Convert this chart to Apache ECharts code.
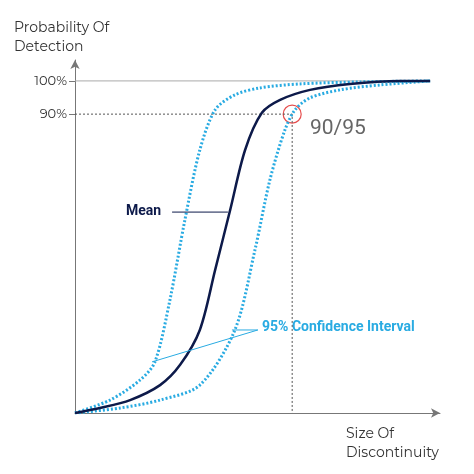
<!DOCTYPE html>
<html><head><meta charset="utf-8">
<script src="https://cdn.jsdelivr.net/npm/echarts@6/dist/echarts.min.js"></script>
<style>html,body{margin:0;background:#fff}#c{width:474px;height:474px}</style>
</head><body><div id="c"></div>
<script>
var meanX = [0, 6.8, 15.1, 23.3, 28.8, 34.2, 38.4, 42.5, 46.6, 51.2, 56.2, 64.4, 75.3, 89, 97.3];
var meanY = [0, 1.5, 3.9, 8.4, 14.5, 25, 43.1, 61.1, 79.2, 90.4, 94.3, 97.3, 99.1, 100, 100];
var lowX = [0, 9.6, 17.8, 21.9, 26, 30.1, 34.2, 38.4, 43.8, 50.7, 61.6, 78.1, 97.3];
var lowY = [0, 3.9, 9.9, 15.4, 34.0, 58.1, 79.2, 91.3, 95.8, 97.9, 99.1, 99.7, 100];
var highX = [0, 12.3, 23.3, 34.2, 43.8, 49.3, 53.4, 57.5, 60.3, 64.4, 72.6, 83.6, 97.3];
var highY = [0, 1.5, 3.9, 8.4, 25, 49.1, 70.2, 85.2, 91.3, 94.9, 97.3, 98.8, 100];
var yTicks = [90, 100];
var pod = [59.5, 90];

function pairs(xs, ys) { return xs.map(function (x, i) { return [x, ys[i]]; }); }
var blue = '#29abe2', navy = '#0d1a4a';

var chart = echarts.init(document.getElementById('c'));
chart.setOption({
  animation: false,
  grid: { left: 75, right: 34, top: 60, bottom: 61 },
  xAxis: { type: 'value', min: 0, max: 100, splitLine: { show: false },
    axisLine: { lineStyle: { color: '#777' }, symbol: ['none', 'arrow'], symbolSize: [7, 9] },
    axisTick: { show: false }, axisLabel: { show: false } },
  yAxis: { type: 'value', min: 0, max: 106.3, splitLine: { show: false },
    axisLine: { show: true, lineStyle: { color: '#777' }, symbol: ['none', 'arrow'], symbolSize: [7, 9] },
    axisTick: { show: true, customValues: yTicks, length: 6, lineStyle: { color: '#777' } },
    axisLabel: { customValues: yTicks, formatter: '{value}%', color: '#333', fontSize: 13, fontFamily: 'Montserrat, Roboto, sans-serif' } },
  series: [
    { type: 'line', data: [[0, 100], [97.3, 100]], symbol: 'none', silent: true,
      lineStyle: { color: '#aaa', width: 1 } },
    { type: 'line', data: [[0, pod[1]], pod, [pod[0], 0]], symbol: 'none', silent: true,
      lineStyle: { color: '#555', width: 1, type: [2, 2] } },
    { type: 'line', data: pairs(lowX, lowY), smooth: 0.3, symbol: 'none',
      lineStyle: { color: blue, width: 3, type: [2, 2] } },
    { type: 'line', data: pairs(highX, highY), smooth: 0.3, symbol: 'none',
      lineStyle: { color: blue, width: 3, type: [2, 2] } },
    { type: 'line', data: pairs(meanX, meanY), smooth: 0.3, symbol: 'none',
      lineStyle: { color: navy, width: 2.5 } },
    { type: 'line', data: [[26.6, 60.5], [41.9, 60.5]], symbol: 'none', lineStyle: { color: navy, width: 1 } },
    { type: 'line', data: [[50.1, 25], [21.1, 15.4]], symbol: 'none', lineStyle: { color: blue, width: 1 } },
    { type: 'line', data: [[50.1, 25], [43.0, 25]], symbol: 'none', lineStyle: { color: blue, width: 1 } },
    { type: 'scatter', data: [pod], symbol: 'circle', symbolSize: 18,
      itemStyle: { color: 'transparent', borderColor: '#e02020', borderWidth: 1.2 } }
  ],
  graphic: [
    { type: 'text', left: 14, top: 18, style: { text: 'Probability Of\nDetection', fill: '#333', font: '14px Montserrat, Roboto, sans-serif', lineHeight: 19 } },
    { type: 'text', left: 346, top: 424, style: { text: 'Size Of\nDiscontinuity', fill: '#333', font: '14px Montserrat, Roboto, sans-serif', lineHeight: 19 } },
    { type: 'text', left: 126, top: 204, style: { text: 'Mean', fill: navy, font: 'bold 14px Roboto, sans-serif' } },
    { type: 'text', left: 262, top: 320, style: { text: '95% Confidence Interval', fill: blue, font: 'bold 14px Roboto, sans-serif' } },
    { type: 'text', left: 310, top: 118, style: { text: '90/95', fill: '#666', font: '21px Roboto, sans-serif' } }
  ]
});
</script></body></html>
